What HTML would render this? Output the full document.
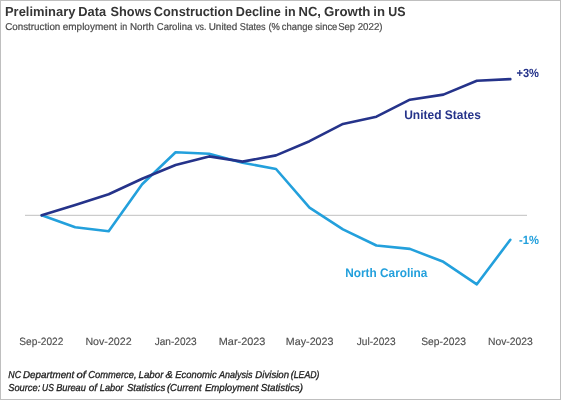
<!DOCTYPE html>
<html><head><meta charset="utf-8"><style>
html,body{margin:0;padding:0;background:#fff;}
svg{display:block;will-change:transform;}
text{font-family:"Liberation Sans",sans-serif;text-rendering:geometricPrecision;}
</style></head><body>
<svg width="561" height="400" viewBox="0 0 561 400">
<rect x="0" y="0" width="561" height="400" fill="#fff"/>
<rect x="0.5" y="0.5" width="560" height="399" fill="none" stroke="#bfbfbf" stroke-width="1"/>
<line x1="25" y1="215.3" x2="527" y2="215.3" stroke="#c0c0c0" stroke-width="1"/>
<polyline points="41.73,215.30 75.20,227.20 108.67,231.30 142.14,184.30 175.61,152.20 209.08,153.80 242.55,162.80 276.02,169.00 309.49,207.70 342.96,229.40 376.43,245.50 409.90,248.90 443.37,261.80 476.84,284.30 510.31,239.80" fill="none" stroke="#23a0dc" stroke-width="2.6" stroke-linejoin="round" stroke-linecap="round"/>
<polyline points="41.73,215.30 75.20,205.00 108.67,194.30 142.14,178.80 175.61,165.00 209.08,156.40 242.55,161.60 276.02,155.40 309.49,141.20 342.96,123.90 376.43,116.70 409.90,99.70 443.37,94.60 476.84,80.80 510.31,79.10" fill="none" stroke="#25338a" stroke-width="2.6" stroke-linejoin="round" stroke-linecap="round"/>
<text x="4.99" y="16.0" font-size="13.1" font-weight="bold" fill="#353535" textLength="70.45" lengthAdjust="spacingAndGlyphs">Preliminary</text>
<text x="78.22" y="16.0" font-size="13.1" font-weight="bold" fill="#353535" textLength="27.83" lengthAdjust="spacingAndGlyphs">Data</text>
<text x="110.57" y="16.0" font-size="13.1" font-weight="bold" fill="#353535" textLength="41.11" lengthAdjust="spacingAndGlyphs">Shows</text>
<text x="153.86" y="16.0" font-size="13.1" font-weight="bold" fill="#353535" textLength="79.30" lengthAdjust="spacingAndGlyphs">Construction</text>
<text x="235.81" y="16.0" font-size="13.1" font-weight="bold" fill="#353535" textLength="45.05" lengthAdjust="spacingAndGlyphs">Decline</text>
<text x="284.61" y="16.0" font-size="13.1" font-weight="bold" fill="#353535" textLength="11.14" lengthAdjust="spacingAndGlyphs">in</text>
<text x="298.47" y="16.0" font-size="13.1" font-weight="bold" fill="#353535" textLength="22.46" lengthAdjust="spacingAndGlyphs">NC,</text>
<text x="324.01" y="16.0" font-size="13.1" font-weight="bold" fill="#353535" textLength="46.47" lengthAdjust="spacingAndGlyphs">Growth</text>
<text x="373.33" y="16.0" font-size="13.1" font-weight="bold" fill="#353535" textLength="11.69" lengthAdjust="spacingAndGlyphs">in</text>
<text x="388.28" y="16.0" font-size="13.1" font-weight="bold" fill="#353535" textLength="17.29" lengthAdjust="spacingAndGlyphs">US</text>
<text x="5.18" y="30.0" font-size="10.0" fill="#4a4a4a" stroke="#4a4a4a" stroke-width="0.2" textLength="55.17" lengthAdjust="spacingAndGlyphs">Construction</text>
<text x="62.75" y="30.0" font-size="10.0" fill="#4a4a4a" stroke="#4a4a4a" stroke-width="0.2" textLength="54.30" lengthAdjust="spacingAndGlyphs">employment</text>
<text x="120.19" y="30.0" font-size="10.0" fill="#4a4a4a" stroke="#4a4a4a" stroke-width="0.2" textLength="6.91" lengthAdjust="spacingAndGlyphs">in</text>
<text x="130.01" y="30.0" font-size="10.0" fill="#4a4a4a" stroke="#4a4a4a" stroke-width="0.2" textLength="24.01" lengthAdjust="spacingAndGlyphs">North</text>
<text x="156.77" y="30.0" font-size="10.0" fill="#4a4a4a" stroke="#4a4a4a" stroke-width="0.2" textLength="35.46" lengthAdjust="spacingAndGlyphs">Carolina</text>
<text x="195.17" y="30.0" font-size="10.0" fill="#4a4a4a" stroke="#4a4a4a" stroke-width="0.2" textLength="11.32" lengthAdjust="spacingAndGlyphs">vs.</text>
<text x="208.71" y="30.0" font-size="10.0" fill="#4a4a4a" stroke="#4a4a4a" stroke-width="0.2" textLength="28.69" lengthAdjust="spacingAndGlyphs">United</text>
<text x="239.81" y="30.0" font-size="10.0" fill="#4a4a4a" stroke="#4a4a4a" stroke-width="0.2" textLength="25.90" lengthAdjust="spacingAndGlyphs">States</text>
<text x="268.46" y="30.0" font-size="10.0" fill="#4a4a4a" stroke="#4a4a4a" stroke-width="0.2" textLength="11.48" lengthAdjust="spacingAndGlyphs">(%</text>
<text x="281.75" y="30.0" font-size="10.0" fill="#4a4a4a" stroke="#4a4a4a" stroke-width="0.2" textLength="30.87" lengthAdjust="spacingAndGlyphs">change</text>
<text x="315.30" y="30.0" font-size="10.0" fill="#4a4a4a" stroke="#4a4a4a" stroke-width="0.2" textLength="22.10" lengthAdjust="spacingAndGlyphs">since</text>
<text x="338.15" y="30.0" font-size="10.0" fill="#4a4a4a" stroke="#4a4a4a" stroke-width="0.2" textLength="17.00" lengthAdjust="spacingAndGlyphs">Sep</text>
<text x="357.66" y="30.0" font-size="10.0" fill="#4a4a4a" stroke="#4a4a4a" stroke-width="0.2" textLength="24.89" lengthAdjust="spacingAndGlyphs">2022)</text>
<text x="8.37" y="378.1" font-size="10.0" font-style="italic" fill="#202020" stroke="#202020" stroke-width="0.3" textLength="12.72" lengthAdjust="spacingAndGlyphs">NC</text>
<text x="22.94" y="378.1" font-size="10.0" font-style="italic" fill="#202020" stroke="#202020" stroke-width="0.3" textLength="51.39" lengthAdjust="spacingAndGlyphs">Department</text>
<text x="76.49" y="378.1" font-size="10.0" font-style="italic" fill="#202020" stroke="#202020" stroke-width="0.3" textLength="9.37" lengthAdjust="spacingAndGlyphs">of</text>
<text x="88.19" y="378.1" font-size="10.0" font-style="italic" fill="#202020" stroke="#202020" stroke-width="0.3" textLength="48.37" lengthAdjust="spacingAndGlyphs">Commerce,</text>
<text x="138.51" y="378.1" font-size="10.0" font-style="italic" fill="#202020" stroke="#202020" stroke-width="0.3" textLength="24.89" lengthAdjust="spacingAndGlyphs">Labor</text>
<text x="165.51" y="378.1" font-size="10.0" font-style="italic" fill="#202020" stroke="#202020" stroke-width="0.3" textLength="7.32" lengthAdjust="spacingAndGlyphs">&amp;</text>
<text x="175.36" y="378.1" font-size="10.0" font-style="italic" fill="#202020" stroke="#202020" stroke-width="0.3" textLength="41.22" lengthAdjust="spacingAndGlyphs">Economic</text>
<text x="218.94" y="378.1" font-size="10.0" font-style="italic" fill="#202020" stroke="#202020" stroke-width="0.3" textLength="33.52" lengthAdjust="spacingAndGlyphs">Analysis</text>
<text x="255.33" y="378.1" font-size="10.0" font-style="italic" fill="#202020" stroke="#202020" stroke-width="0.3" textLength="33.72" lengthAdjust="spacingAndGlyphs">Division</text>
<text x="290.85" y="378.1" font-size="10.0" font-style="italic" fill="#202020" stroke="#202020" stroke-width="0.3" textLength="28.52" lengthAdjust="spacingAndGlyphs">(LEAD)</text>
<text x="8.26" y="390.6" font-size="10.0" font-style="italic" fill="#202020" stroke="#202020" stroke-width="0.3" textLength="32.02" lengthAdjust="spacingAndGlyphs">Source:</text>
<text x="42.11" y="390.6" font-size="10.0" font-style="italic" fill="#202020" stroke="#202020" stroke-width="0.3" textLength="11.73" lengthAdjust="spacingAndGlyphs">US</text>
<text x="56.17" y="390.6" font-size="10.0" font-style="italic" fill="#202020" stroke="#202020" stroke-width="0.3" textLength="29.72" lengthAdjust="spacingAndGlyphs">Bureau</text>
<text x="88.84" y="390.6" font-size="10.0" font-style="italic" fill="#202020" stroke="#202020" stroke-width="0.3" textLength="8.28" lengthAdjust="spacingAndGlyphs">of</text>
<text x="99.86" y="390.6" font-size="10.0" font-style="italic" fill="#202020" stroke="#202020" stroke-width="0.3" textLength="23.49" lengthAdjust="spacingAndGlyphs">Labor</text>
<text x="126.97" y="390.6" font-size="10.0" font-style="italic" fill="#202020" stroke="#202020" stroke-width="0.3" textLength="38.20" lengthAdjust="spacingAndGlyphs">Statistics</text>
<text x="166.99" y="390.6" font-size="10.0" font-style="italic" fill="#202020" stroke="#202020" stroke-width="0.3" textLength="34.54" lengthAdjust="spacingAndGlyphs">(Current</text>
<text x="204.95" y="390.6" font-size="10.0" font-style="italic" fill="#202020" stroke="#202020" stroke-width="0.3" textLength="53.48" lengthAdjust="spacingAndGlyphs">Employment</text>
<text x="260.80" y="390.6" font-size="10.0" font-style="italic" fill="#202020" stroke="#202020" stroke-width="0.3" textLength="42.19" lengthAdjust="spacingAndGlyphs">Statistics)</text>
<text x="19.35" y="344.9" font-size="10.6" fill="#505050" stroke="#505050" stroke-width="0.15" textLength="43.96" lengthAdjust="spacingAndGlyphs">Sep-2022</text>
<text x="85.41" y="344.9" font-size="10.6" fill="#505050" stroke="#505050" stroke-width="0.15" textLength="46.25" lengthAdjust="spacingAndGlyphs">Nov-2022</text>
<text x="154.69" y="344.9" font-size="10.6" fill="#505050" stroke="#505050" stroke-width="0.15" textLength="42.05" lengthAdjust="spacingAndGlyphs">Jan-2023</text>
<text x="218.79" y="344.9" font-size="10.6" fill="#505050" stroke="#505050" stroke-width="0.15" textLength="46.58" lengthAdjust="spacingAndGlyphs">Mar-2023</text>
<text x="285.85" y="344.9" font-size="10.6" fill="#505050" stroke="#505050" stroke-width="0.15" textLength="47.63" lengthAdjust="spacingAndGlyphs">May-2023</text>
<text x="356.81" y="344.9" font-size="10.6" fill="#505050" stroke="#505050" stroke-width="0.15" textLength="38.81" lengthAdjust="spacingAndGlyphs">Jul-2023</text>
<text x="421.25" y="344.9" font-size="10.6" fill="#505050" stroke="#505050" stroke-width="0.15" textLength="44.65" lengthAdjust="spacingAndGlyphs">Sep-2023</text>
<text x="487.91" y="344.9" font-size="10.6" fill="#505050" stroke="#505050" stroke-width="0.15" textLength="44.85" lengthAdjust="spacingAndGlyphs">Nov-2023</text>
<text x="404.16" y="119.3" font-size="12.5" font-weight="bold" fill="#25338a" textLength="76.66" lengthAdjust="spacingAndGlyphs">United States</text>
<text x="345.20" y="276.7" font-size="12.5" font-weight="bold" fill="#23a0dc" textLength="82.25" lengthAdjust="spacingAndGlyphs">North Carolina</text>
<text x="516.41" y="77.2" font-size="12.0" font-weight="bold" fill="#25338a" textLength="22.56" lengthAdjust="spacingAndGlyphs">+3%</text>
<text x="519.07" y="244.4" font-size="12.0" font-weight="bold" fill="#23a0dc" textLength="19.88" lengthAdjust="spacingAndGlyphs">-1%</text>
</svg>
</body></html>
